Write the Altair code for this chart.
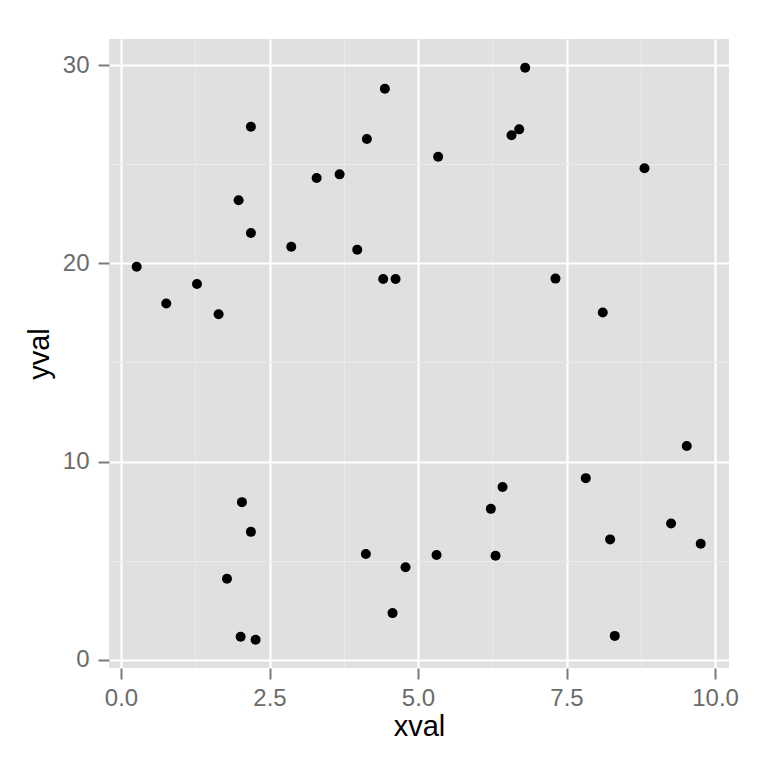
import altair as alt
import pandas as pd

xval = [4.442, 2.187, 4.139, 3.293, 3.680, 1.980, 2.187, 2.866, 3.977, 0.264,
        4.414, 4.622, 1.279, 0.762, 1.643, 6.804, 6.703, 6.574, 5.339, 8.812,
        7.314, 8.110, 2.036, 2.187, 1.784, 4.122, 4.790, 4.571, 2.014, 2.266,
        9.524, 7.824, 6.423, 6.226, 9.260, 8.234, 9.759, 5.312, 6.305, 8.312]
yval = [28.81, 26.89, 26.27, 24.31, 24.49, 23.18, 21.53, 20.84, 20.69, 19.83,
        19.21, 19.21, 18.96, 17.97, 17.43, 29.87, 26.76, 26.46, 25.38, 24.80,
        19.23, 17.52, 7.95, 6.45, 4.08, 5.33, 4.66, 2.35, 1.16, 1.01,
        10.78, 9.16, 8.71, 7.61, 6.87, 6.07, 5.85, 5.28, 5.24, 1.20]

x_ticks = [0, 1.25, 2.5, 3.75, 5, 6.25, 7.5, 8.75, 10]
y_ticks = [0, 5, 10, 15, 20, 25, 30]

df = pd.DataFrame({"xval": xval, "yval": yval})

FONT = "Liberation Sans"
LABEL_GREY = "#6b6b6b"
TICK_GREY = "#7a7a7a"
MINOR = "#ebebeb"

def axis(values, step, fmt, **kw):
    test = f"datum.value % {step} !== 0"
    return alt.Axis(
        values=values,
        domain=False,
        grid=True,
        gridColor={"condition": {"test": test, "value": MINOR}, "value": "white"},
        gridWidth={"condition": {"test": test, "value": 1.1}, "value": 2.2},
        gridOpacity=1,
        tickColor=TICK_GREY,
        tickOpacity={"condition": {"test": test, "value": 0}, "value": 1},
        tickSize=11,
        tickWidth=2,
        labelExpr=f"datum.value % {step} === 0 ? format(datum.value, '{fmt}') : ''",
        labelOverlap=False,
        labelFont=FONT,
        labelFontSize=24,
        labelColor=LABEL_GREY,
        titleFont=FONT,
        titleFontSize=29,
        titleFontWeight="normal",
        titleColor="black",
        **kw,
    )

chart = (
    alt.Chart(df)
    .mark_circle(size=100, color="black", opacity=1)
    .encode(
        x=alt.X("xval:Q",
                scale=alt.Scale(domain=[-0.202, 10.235], nice=False, zero=False),
                axis=axis(x_ticks, 2.5, ".1f", labelPadding=7, titlePadding=2)),
        y=alt.Y("yval:Q",
                scale=alt.Scale(domain=[-0.42, 31.32], nice=False, zero=False),
                axis=axis(y_ticks, 10, "d", labelPadding=9, titlePadding=8)),
    )
    .properties(
        width=620,
        height=629,
        autosize=alt.AutoSizeParams(type="none"),
        padding={"left": 101, "top": 31, "right": 30, "bottom": 90},
        background="white",
    )
    .configure_view(fill="#e0e0e0", strokeWidth=0)
)

chart.save("out.html", embed_options={"renderer": "svg", "actions": False})
